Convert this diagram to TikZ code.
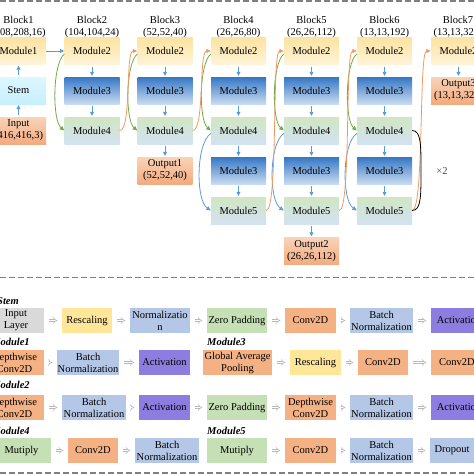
\documentclass[tikz,border=0pt]{standalone}
\usepackage{fontspec}
\setmainfont{Liberation Serif}
\usetikzlibrary{arrows.meta,shadings}
\definecolor{ytop}{HTML}{FCE3A0}
\definecolor{ybot}{HTML}{FFF4D9}
\definecolor{btop}{HTML}{3577C4}
\definecolor{bbot}{HTML}{C8DBF1}
\definecolor{gtop}{HTML}{D0E6C2}
\definecolor{gbot}{HTML}{D3E2F2}
\definecolor{ctop}{HTML}{DDF7FF}
\definecolor{cbot}{HTML}{C6EFFC}
\definecolor{stop}{HTML}{F9D3B7}
\definecolor{sbot}{HTML}{F3AB80}
\definecolor{arrblue}{HTML}{5B9BD5}
\definecolor{arrgreen}{HTML}{70AD47}
\definecolor{arrorange}{HTML}{EE9A63}
\definecolor{fgray}{HTML}{D9D9D9}
\definecolor{fyel}{HTML}{FFE699}
\definecolor{flav}{HTML}{B4C7E7}
\definecolor{fgrn}{HTML}{C5E0B4}
\definecolor{forg}{HTML}{F4B183}
\definecolor{fpur}{HTML}{8E7DE0}
\definecolor{dashgray}{HTML}{808080}
\begin{document}
\begin{tikzpicture}[x=1pt,y=-1pt,
  font=\fontsize{10.5}{12}\selectfont,
  box/.style={minimum width=55pt,minimum height=27pt,inner sep=0pt,align=center},
  yel/.style={box,top color=ytop,bottom color=ybot},
  blu/.style={box,top color=btop,bottom color=bbot},
  grn/.style={box,top color=gtop,bottom color=gbot},
  cyn/.style={box,top color=ctop,bottom color=cbot},
  sal/.style={box,top color=stop,bottom color=sbot},
  lbl/.style={align=center,inner sep=0pt},
  varr/.style={draw=arrblue,line width=0.8pt,-{Triangle[width=4pt,length=4pt]},shorten <=2pt,shorten >=1pt},
  gcurve/.style={draw=arrgreen,line width=0.8pt,-{Triangle[width=4pt,length=4.5pt]}},
  ocurve/.style={draw=arrorange,line width=0.8pt,-{Triangle[width=4pt,length=4.5pt]}},
  bcurve/.style={draw=arrblue,line width=0.8pt,-{Triangle[width=4pt,length=4.5pt]}},
  lb/.style={minimum height=25pt,inner sep=0pt,align=center},
  darr/.style={draw=black!28,double=white,double distance=1.7pt,line width=0.55pt,-{Implies},shorten <=4.5pt,shorten >=4.5pt},
  rowlab/.style={font=\fontsize{10.5}{12}\selectfont\bfseries\itshape,anchor=west,inner sep=0pt},
  sep/.style={draw=dashgray,dash pattern=on 6pt off 3pt}
]
\path[use as bounding box] (0,0) rectangle (474,474);
\clip (0,0) rectangle (474,474);

% separators
\draw[sep,line width=1.5pt] (0,1) -- (474,1);
\draw[sep,line width=1pt] (0,277) -- (474,277);
\draw[sep,line width=2.5pt] (0,473) -- (474,473);

% block labels
\node[lbl] (l1) at (18.5,27) {Block1\\(208,208,16)};
\node[lbl] (l2) at (92,27) {Block2\\(104,104,24)};
\node[lbl] (l3) at (165,27) {Block3\\(52,52,40)};
\node[lbl] (l4) at (238.5,27) {Block4\\(26,26,80)};
\node[lbl] (l5) at (311.5,27) {Block5\\(26,26,112)};
\node[lbl] (l6) at (384.5,27) {Block6\\(13,13,192)};
\node[lbl] (l7) at (458,27) {Block7\\(13,13,320)};

% block 1
\node[yel] (b1m1) at (18.5,51) {Module1};
\node[cyn] (b1s) at (18.5,90.5) {Stem};
\node[sal] (b1in) at (18.5,130.5) {Input\\(416,416,3)};
\draw[varr] (b1in) -- (b1s);
\draw[varr] (b1s) -- (b1m1);

% blocks 2-6 common part
\foreach \i/\x in {2/92,3/165,4/238.5,5/311.5,6/384.5}{
  \node[yel] (b\i m2) at (\x,51) {Module2};
  \node[blu] (b\i m3) at (\x,90.5) {Module3};
  \node[grn] (b\i m4) at (\x,130.5) {Module4};
  \draw[varr] (b\i m2) -- (b\i m3);
  \draw[varr] (b\i m3) -- (b\i m4);
  \draw[gcurve] ([yshift=-3pt]b\i m2.west) .. controls +(-12,10) and +(-12,-10) .. (b\i m4.west);
}
\foreach \i/\x in {4/238.5,5/311.5,6/384.5}{
  \node[blu] (b\i m3b) at (\x,170.5) {Module3};
  \node[grn] (b\i m5) at (\x,210.5) {Module5};
  \draw[varr] (b\i m4) -- (b\i m3b);
  \draw[varr] (b\i m3b) -- (b\i m5);
  \draw[bcurve] ([yshift=-3pt]b\i m4.west) .. controls +(-15,10) and +(-15,-10) .. (b\i m5.west);
}

% block 7
\node[yel] (b7m2) at (458.5,51) {Module2};
\node[sal] (o3) at (458.5,90.5) {Output3\\(13,13,320)};
\draw[varr] (b7m2) -- (o3);

% outputs
\node[sal] (o1) at (165,170.5) {Output1\\(52,52,40)};
\draw[varr] (b3m4) -- (o1);
\node[sal] (o2) at (311.5,251) {Output2\\(26,26,112)};
\draw[varr] (b5m5) -- (o2);

% block-to-block connectors
\draw[bcurve] (b1m1.east) -- (b2m2.west);
\draw[ocurve] (b2m4.east) .. controls +(12,0) and +(-12,0) .. (b3m2.west);
\draw[ocurve] (b3m4.east) .. controls +(12,0) and +(-12,0) .. (b4m2.west);
\draw[ocurve] (b4m5.east) .. controls +(12,0) and +(-12,0) .. (b5m2.west);
\draw[ocurve] (b5m5.east) .. controls +(12,0) and +(-12,0) .. (b6m2.west);
\draw[ocurve] (b6m5.east) .. controls +(12,0) and +(-12,0) .. (b7m2.west);

% repeat brace
\coordinate (brc) at (421,170.5);
\draw[black,line width=0.8pt] (b6m4.east) .. controls +(9,0) and +(0,-25) .. (brc) .. controls +(0,25) and +(9,0) .. (b6m5.east);
\node[text=black!70] (x2) at (442,171) {×2};

% ---------- lower part ----------
\node[rowlab] (tstem) at (-3,301) {Stem};
\node[rowlab] (tm1) at (-9,342) {Module1};
\node[rowlab] (tm3) at (207,342) {Module3};
\node[rowlab] (tm2) at (-9,385) {Module2};
\node[rowlab] (tm4) at (-9,431) {Module4};
\node[rowlab] (tm5) at (207,431) {Module5};

% row 1: Stem
\node[lb,fill=fgray,minimum width=56pt] (s1) at (16,320.5) {Input\\Layer};
\node[lb,fill=fyel,minimum width=50pt] (s2) at (87,320.5) {Rescaling};
\node[lb,fill=flav,minimum width=60pt] (s3) at (160,320.5) {Normalizatio\\n};
\node[lb,fill=fgrn,minimum width=60pt] (s4) at (237,320.5) {Zero Padding};
\node[lb,fill=forg,minimum width=51pt] (s5) at (310.5,320.5) {Conv2D};
\node[lb,fill=flav,minimum width=63pt] (s6) at (381.5,320.5) {Batch\\Normalization};
\node[lb,fill=fpur,minimum width=56pt] (s7) at (459,320.5) {Activation};
\draw[darr] (s1) -- (s2);
\draw[darr] (s2) -- (s3);
\draw[darr] (s3) -- (s4);
\draw[darr] (s4) -- (s5);
\draw[darr] (s5) -- (s6);
\draw[darr] (s6) -- (s7);

% row 2: Module1 and Module3
\node[lb,fill=forg,minimum width=59pt] (a1) at (14.5,362.5) {Depthwise\\Conv2D};
\node[lb,fill=flav,minimum width=62pt] (a2) at (88,362.5) {Batch\\Normalization};
\node[lb,fill=fpur,minimum width=51pt] (a3) at (164.5,362.5) {Activation};
\draw[darr] (a1) -- (a2);
\draw[darr] (a2) -- (a3);
\node[lb,fill=forg,minimum width=69pt] (c1) at (237.5,362.5) {Global Average\\Pooling};
\node[lb,fill=fyel,minimum width=51pt] (c2) at (315.5,362.5) {Rescaling};
\node[lb,fill=forg,minimum width=50pt] (c3) at (383,362.5) {Conv2D};
\node[lb,fill=forg,minimum width=52pt] (c4) at (457,362.5) {Conv2D};
\draw[darr] (c1) -- (c2);
\draw[darr] (c2) -- (c3);
\draw[darr] (c3) -- (c4);

% row 3: Module2
\node[lb,fill=forg,minimum width=59pt] (d1) at (14.5,407.5) {Depthwise\\Conv2D};
\node[lb,fill=flav,minimum width=64pt] (d2) at (94,407.5) {Batch\\Normalization};
\node[lb,fill=fpur,minimum width=51pt] (d3) at (164.5,407.5) {Activation};
\node[lb,fill=fgrn,minimum width=60pt] (d4) at (237,407.5) {Zero Padding};
\node[lb,fill=forg,minimum width=51pt] (d5) at (310.5,407.5) {Depthwise\\Conv2D};
\node[lb,fill=flav,minimum width=63pt] (d6) at (381.5,407.5) {Batch\\Normalization};
\node[lb,fill=fpur,minimum width=56pt] (d7) at (459,407.5) {Activation};
\draw[darr] (d1) -- (d2);
\draw[darr] (d2) -- (d3);
\draw[darr] (d3) -- (d4);
\draw[darr] (d4) -- (d5);
\draw[darr] (d5) -- (d6);
\draw[darr] (d6) -- (d7);

% row 4: Module4 and Module5
\node[lb,fill=fgrn,minimum width=59pt] (e1) at (21.5,450.5) {Mutiply};
\node[lb,fill=forg,minimum width=50pt] (e2) at (93,450.5) {Conv2D};
\node[lb,fill=flav,minimum width=64pt] (e3) at (167,450.5) {Batch\\Normalization};
\draw[darr] (e1) -- (e2);
\draw[darr] (e2) -- (e3);
\node[lb,fill=fgrn,minimum width=60pt] (f1) at (237,450.5) {Mutiply};
\node[lb,fill=forg,minimum width=51pt] (f2) at (310.5,450.5) {Conv2D};
\node[lb,fill=flav,minimum width=63pt] (f3) at (381.5,450.5) {Batch\\Normalization};
\node[lb,fill=flav,minimum width=44pt] (f4) at (452,450.5) {Dropout};
\draw[darr] (f1) -- (f2);
\draw[darr] (f2) -- (f3);
\draw[darr] (f3) -- (f4);
\end{tikzpicture}
\end{document}
